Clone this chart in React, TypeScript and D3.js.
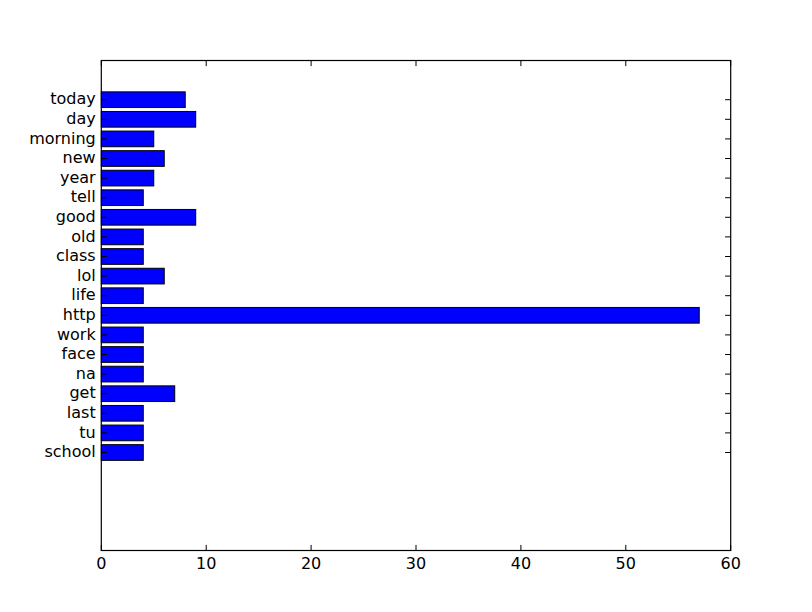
import React from "react";
import * as d3 from "d3";

const categories = ["school", "tu", "last", "get", "na", "face", "work", "http", "life", "lol", "class", "old", "good", "tell", "year", "new", "morning", "day", "today"];
const counts = [4, 4, 4, 7, 4, 4, 4, 57, 4, 6, 4, 4, 9, 4, 5, 6, 5, 9, 8];
const xTicks = [0, 10, 20, 30, 40, 50, 60];

const W = 812;
const H = 612;
const left = 101.3;
const right = 730.7;
const top = 60.5;
const bottom = 550.5;
const tickLen = 5.6;
const font = "'DejaVu Sans', sans-serif";

export default function App() {
  const x = d3.scaleLinear().domain([0, 60]).range([left, right]);
  const y = d3.scaleLinear().domain([-5, 20]).range([bottom, top]);
  const barH = 0.8;
  const idx = d3.range(categories.length);

  return (
    <svg width={W} height={H} style={{ position: "absolute", left: 0, top: 0, background: "#fff" }}>
      <rect x={0} y={0} width={W} height={H} fill="#fff" />
      {idx.map((i) => (
        <rect
          key={categories[i]}
          x={x(0)}
          y={y(i + barH / 2)}
          width={x(counts[i]) - x(0)}
          height={y(i - barH / 2) - y(i + barH / 2)}
          fill="#0000ff"
          stroke="#000"
          strokeWidth={1}
        />
      ))}
      {/* y ticks left & right */}
      {idx.map((i) => (
        <g key={"yt" + i}>
          <line x1={left} x2={left + tickLen} y1={y(i)} y2={y(i)} stroke="#000" strokeWidth={1} />
          <line x1={right} x2={right - tickLen} y1={y(i)} y2={y(i)} stroke="#000" strokeWidth={1} />
          <text x={left - 5.6} y={y(i) + 4.6} textAnchor="end" fontFamily={font} fontSize={16} fill="#000">
            {categories[i]}
          </text>
        </g>
      ))}
      {/* x ticks bottom & top */}
      {xTicks.map((t) => (
        <g key={"xt" + t}>
          <line x1={x(t)} x2={x(t)} y1={bottom} y2={bottom - tickLen} stroke="#000" strokeWidth={1} />
          <line x1={x(t)} x2={x(t)} y1={top} y2={top + tickLen} stroke="#000" strokeWidth={1} />
          <text x={x(t)} y={568.5} textAnchor="middle" fontFamily={font} fontSize={16} fill="#000">
            {t}
          </text>
        </g>
      ))}
      <rect x={left} y={top} width={right - left} height={bottom - top} fill="none" stroke="#000" strokeWidth={1.2} />
    </svg>
  );
}
